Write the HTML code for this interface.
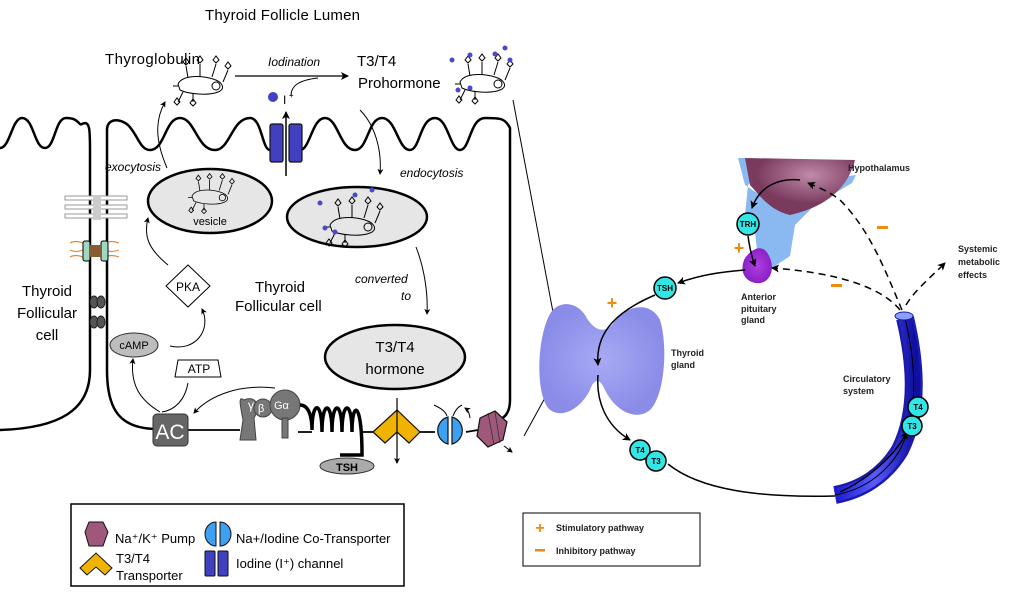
<!DOCTYPE html>
<html><head><meta charset="utf-8"><style>
html,body{margin:0;padding:0;background:#fff}
svg{display:block}
text{font-family:"Liberation Sans",sans-serif}
</style></head><body>
<svg width="1016" height="592" viewBox="0 0 1016 592" xmlns="http://www.w3.org/2000/svg">
<defs>
<marker id="ah" markerWidth="8" markerHeight="8" refX="7" refY="4" orient="auto" markerUnits="userSpaceOnUse"><path d="M0,0 L8,4 L0,8 L2,4Z" fill="#000"/></marker>
<marker id="as" markerWidth="6" markerHeight="6" refX="5" refY="3" orient="auto" markerUnits="userSpaceOnUse"><path d="M0,0 L6,3 L0,6 L1.5,3Z" fill="#000"/></marker>
<linearGradient id="tube" x1="0" x2="1"><stop offset="0" stop-color="#1a1ad0"/><stop offset="0.5" stop-color="#5a5aff"/><stop offset="1" stop-color="#1010a0"/></linearGradient>
<radialGradient id="hyp" cx="0.6" cy="0.3"><stop offset="0" stop-color="#c08aa8"/><stop offset="1" stop-color="#7a3a5e"/></radialGradient>
<radialGradient id="pit" cx="0.5" cy="0.5"><stop offset="0" stop-color="#b040e0"/><stop offset="1" stop-color="#8a20c8"/></radialGradient>
<radialGradient id="thy" cx="0.5" cy="0.5"><stop offset="0" stop-color="#a8aaf5"/><stop offset="1" stop-color="#8a8ce8"/></radialGradient>
<g id="mol" fill="none" stroke="#000" stroke-width="1">
<path d="M0,10 C5,0 25,2 35,5 C45,8 48,15 40,18 C30,22 10,20 2,16 Z"/>
<circle cx="38" cy="12" r="4"/><path d="M-5,12 L0,12 M10,4 L8,-8 M22,3 L22,-10 M34,3 L38,-10 M45,8 L50,-4 M5,18 L0,28 M15,20 L15,28"/>
<path d="M5,-12 l3,-4 l3,4 l-3,3z M19,-14 l3,-4 l3,4 l-3,3z M35,-14 l3,-4 l3,4 l-3,3z M47,-8 l3,-4 l3,4 l-3,3z M-4,28 l3,-4 l3,4 l-3,3z M12,29 l3,-4 l3,4 l-3,3z"/>
</g>
</defs>

<text x="205" y="20" font-size="15" textLength="155">Thyroid  Follicle Lumen</text>

<g fill="none" stroke="#000" stroke-width="2.5">
<path d="M0,148 C10,148 12,118 22,118 C34,118 34,148 45,148 C55,148 55,118 66,118 C80,118 78,126 82,124 C90,120 90,130 90,150 L90,370 C90,410 60,428 0,430"/>
<path d="M107,160 L107,130 C107,118 120,118 128,125 C138,135 140,150 150,150 C165,150 165,118 180,118 C195,118 197,150 215,150 C230,150 232,118 250,118 C262,118 262,150 270,150 M300,150 C310,150 312,118 325,118 C338,118 340,150 355,150 C368,150 368,118 382,118 C396,118 398,150 410,150 C420,150 420,118 435,118 C448,118 450,150 460,150 C470,150 470,118 485,118 C500,118 505,118 510,128 L510,400 C510,412 505,418 498,420"/>
<path d="M107,160 L107,370 C107,410 120,428 155,429"/>
</g>
<g fill="none" stroke="#000" stroke-width="1.8">
<path d="M187,430 L240,430 M298,432 L312,432 M362,432 L375,432 M420,432 L435,432 M466,432 L478,430"/>
</g>

<g fill="#fff" stroke="#999" stroke-width="1">
<rect x="65" y="196" width="62" height="4"/><rect x="65" y="205" width="62" height="4"/><rect x="65" y="214" width="62" height="4"/>
</g>
<rect x="93" y="195" width="8" height="25" fill="#ccc"/>
<g stroke="#e08a40" stroke-width="1.2" fill="none">
<path d="M70,243 q5,-3 13,0 M70,250 q6,3 13,0 M70,257 q5,-3 13,0 M105,243 q6,-3 14,0 M105,250 q6,3 14,0 M105,257 q6,-3 14,0"/>
</g>
<rect x="83" y="241" width="7" height="20" rx="2" fill="#9fd8c0" stroke="#000"/>
<rect x="101" y="241" width="7" height="20" rx="2" fill="#9fd8c0" stroke="#000"/>
<rect x="90" y="245" width="11" height="12" fill="#8a5a30"/>
<g fill="#555" stroke="#222"><ellipse cx="94" cy="302" rx="4" ry="6"/><ellipse cx="101" cy="302" rx="4" ry="6"/><ellipse cx="94" cy="322" rx="4" ry="6"/><ellipse cx="101" cy="322" rx="4" ry="6"/></g>
<g font-size="15" text-anchor="middle"><text x="47" y="296">Thyroid</text><text x="47" y="318">Follicular</text><text x="47" y="340">cell</text></g>

<text x="105" y="64" font-size="15" textLength="95">Thyroglobulin</text>
<use href="#mol" x="178" y="74"/>
<text x="268" y="66" font-size="12" font-style="italic">Iodination</text>
<line x1="235" y1="76" x2="348" y2="76" stroke="#000" stroke-width="1.2" marker-end="url(#ah)"/>
<path d="M291,96 C291,85 300,80 318,78" fill="none" stroke="#000" stroke-width="1"/>
<circle cx="273" cy="97" r="5" fill="#4040c8"/>
<text x="283" y="104" font-size="12">I</text><text x="289" y="98" font-size="8">+</text>
<text x="357" y="66" font-size="15">T3/T4</text>
<text x="358" y="88" font-size="15">Prohormone</text>
<use href="#mol" x="460" y="72"/>
<g fill="#4a4ac8"><circle cx="452" cy="60" r="2.5"/><circle cx="458" cy="90" r="2.5"/><circle cx="470" cy="88" r="2.5"/><circle cx="505" cy="48" r="2.5"/><circle cx="495" cy="54" r="2.5"/><circle cx="470" cy="55" r="2.5"/><circle cx="510" cy="60" r="2.5"/></g>

<rect x="270" y="124" width="13" height="38" rx="2" fill="#4040c0" stroke="#111" stroke-width="1.2"/>
<rect x="289" y="124" width="13" height="38" rx="2" fill="#4040c0" stroke="#111" stroke-width="1.2"/>
<line x1="286" y1="176" x2="286" y2="112" stroke="#000" stroke-width="1.5" marker-end="url(#ah)"/>

<path d="M167,168 C155,140 155,120 165,102" fill="none" stroke="#000" stroke-width="1" marker-end="url(#as)"/>
<text x="105" y="171" font-size="12" font-style="italic">exocytosis</text>
<ellipse cx="210" cy="201" rx="62" ry="32" fill="#e6e6e6" stroke="#000" stroke-width="2.5"/>
<use href="#mol" x="0" y="0" transform="translate(192,188) scale(0.8)"/>
<text x="210" y="225" font-size="11" text-anchor="middle">vesicle</text>
<path d="M360,110 C375,125 382,150 380,174" fill="none" stroke="#000" stroke-width="1" marker-end="url(#as)"/>
<text x="400" y="177" font-size="12" font-style="italic">endocytosis</text>
<ellipse cx="357" cy="217" rx="70" ry="30" fill="#e6e6e6" stroke="#000" stroke-width="2.5"/>
<use href="#mol" x="330" y="215"/>
<g fill="#4a4ac8"><circle cx="320" cy="203" r="2.5"/><circle cx="325" cy="228" r="2.5"/><circle cx="335" cy="232" r="2.5"/><circle cx="372" cy="190" r="2.5"/><circle cx="355" cy="195" r="2.5"/></g>
<text x="355" y="283" font-size="12" font-style="italic">converted</text>
<text x="401" y="300" font-size="12" font-style="italic">to</text>
<path d="M416,247 C425,270 428,295 427,314" fill="none" stroke="#000" stroke-width="1" marker-end="url(#as)"/>
<ellipse cx="395" cy="357" rx="70" ry="32" fill="#e6e6e6" stroke="#000" stroke-width="2.5"/>
<text x="395" y="352" font-size="15" text-anchor="middle">T3/T4</text>
<text x="395" y="374" font-size="15" text-anchor="middle">hormone</text>

<text x="255" y="292" font-size="15">Thyroid</text>
<text x="235" y="311" font-size="15">Follicular cell</text>
<path d="M168,265 C150,250 143,238 148,218" fill="none" stroke="#000" stroke-width="1" marker-end="url(#as)"/>
<path d="M188,265 L210,286 L188,307 L166,286Z" fill="#fff" stroke="#000"/>
<text x="188" y="291" font-size="12" text-anchor="middle">PKA</text>
<ellipse cx="134" cy="345" rx="24" ry="12" fill="#bdbdbd" stroke="#333"/>
<text x="134" y="349" font-size="11" text-anchor="middle">cAMP</text>
<path d="M170,346 C195,352 212,330 202,309" fill="none" stroke="#000" stroke-width="1" marker-end="url(#as)"/>
<path d="M178,360 L218,360 L221,377 L175,377Z" fill="#fff" stroke="#000"/>
<text x="199" y="373" font-size="12" text-anchor="middle">ATP</text>
<path d="M160,412 C140,400 130,385 133,359" fill="none" stroke="#000" stroke-width="1" marker-end="url(#as)"/>
<path d="M188,383 C185,400 175,410 162,412" fill="none" stroke="#000" stroke-width="1"/>
<path d="M275,388 C240,384 210,395 194,413" fill="none" stroke="#000" stroke-width="1" marker-end="url(#as)"/>
<rect x="153" y="414" width="35" height="32" rx="4" fill="#666" stroke="#333"/>
<text x="170" y="439" font-size="21" fill="#fff" text-anchor="middle">AC</text>
<g fill="#777" stroke="#444">
<path d="M244,400 C238,395 240,405 243,420 L240,440 L256,440 L254,418 C262,405 255,395 244,400Z"/>
<circle cx="263" cy="408" r="9"/>
<circle cx="285" cy="405" r="15"/><rect x="282" y="418" width="6" height="20"/>
</g>
<text x="248" y="409" font-size="12" fill="#fff">γ</text><text x="258" y="412" font-size="11" fill="#fff">β</text><text x="274" y="409" font-size="11" fill="#fff">Gα</text>
<path d="M300,405 C310,405 312,420 312,430 C312,400 322,400 322,432 C322,400 332,400 332,432 C332,400 342,400 342,432 C342,400 352,400 352,432 C352,400 362,400 362,455 L340,455" fill="none" stroke="#000" stroke-width="3.5"/>
<ellipse cx="347" cy="466" rx="27" ry="8" fill="#aaa" stroke="#333"/>
<text x="347" y="471" font-size="11" font-weight="bold" text-anchor="middle">TSH</text>
<path d="M373,432 L397,410 L420,432 L409,443 L397,432 L385,443Z" fill="#f0b400" stroke="#111" stroke-width="1.2"/>
<line x1="397" y1="398" x2="397" y2="463" stroke="#000" stroke-width="1.2" marker-end="url(#as)"/>
<path d="M448,417 A14,14 0 0 0 448,444Z" fill="#3ea0f0" stroke="#111" stroke-width="1.2"/>
<path d="M452,417 A14,14 0 0 1 452,444Z" fill="#3ea0f0" stroke="#111" stroke-width="1.2"/>
<path d="M447,416 C445,410 438,407 434,405 M453,416 C455,410 458,407 462,405 M470,418 C469,412 468,410 465,408" fill="none" stroke="#000" stroke-width="1" marker-end="url(#as)"/>
<path d="M480,418 L495,411 L507,422 L503,440 L488,447 L477,436Z" fill="#a0587a" stroke="#111" stroke-width="1.2"/>
<path d="M488,413 L494,445 M495,412 L500,443" stroke="#333" stroke-width="0.8"/>
<line x1="504" y1="446" x2="512" y2="452" stroke="#000" marker-end="url(#as)"/>

<rect x="71" y="504" width="333" height="82" fill="#fff" stroke="#000" stroke-width="1.5"/>
<path d="M89,522 L103,522 L108,532 L103,546 L89,546 L85,532Z" fill="#a0587a" stroke="#111"/>
<text x="115" y="543" font-size="13">Na⁺/K⁺ Pump</text>
<path d="M216,522 A11,12 0 0 0 216,546Z M220,522 A11,12 0 0 1 220,546Z" fill="#3ea0f0" stroke="#111"/>
<text x="236" y="543" font-size="13">Na+/Iodine Co-Transporter</text>
<path d="M80,568 L96,553 L112,568 L105,575 L96,567 L87,575Z" fill="#f0b400" stroke="#111"/>
<text x="116" y="563" font-size="13">T3/T4</text><text x="116" y="580" font-size="13">Transporter</text>
<rect x="205" y="551" width="10" height="25" rx="1" fill="#4040c0" stroke="#111"/><rect x="218" y="551" width="10" height="25" rx="1" fill="#4040c0" stroke="#111"/>
<text x="236" y="568" font-size="13">Iodine (I⁺) channel</text>

<polyline points="513,100 563,365 524,436" fill="none" stroke="#000" stroke-width="1"/>

<path d="M548,318 C555,300 575,300 585,315 C592,328 602,335 612,325 C625,305 650,300 660,320 C668,345 665,395 650,410 C635,422 615,410 605,390 C600,378 594,378 590,390 C580,410 560,420 548,408 C535,390 538,340 548,318Z" fill="url(#thy)"/>
<path d="M738,158 L745,158 L755,178 L748,185 L745,215 L755,232 L758,260 L772,268 L790,256 L795,225 L815,205 L852,183 L856,175 L838,178 L800,205 L760,195 L745,185 Z" fill="#8ab8f0"/>
<path d="M745,158 L855,160 C850,180 835,205 790,215 C770,210 762,198 750,185Z" fill="url(#hyp)"/>
<path d="M745,258 C755,245 765,245 770,258 C775,270 770,285 755,283 C742,280 740,268 745,258Z" fill="url(#pit)"/>
<path d="M905,318 C915,360 920,410 900,450 C885,475 862,490 835,495" fill="none" stroke="#1a1ab0" stroke-width="18"/>
<path d="M905,318 C915,360 920,410 900,450 C885,475 862,490 835,495" fill="none" stroke="url(#tube)" stroke-width="13"/>
<path d="M905,318 C915,360 920,410 900,450 C885,475 862,490 835,495" fill="none" stroke="#000" stroke-width="1"/>
<ellipse cx="904" cy="316" rx="9" ry="4" fill="#8aa0ff" stroke="#1a1ab0"/>

<path d="M800,180 C780,178 760,185 752,208" fill="none" stroke="#000" stroke-width="1.5" marker-end="url(#ah)"/>
<path d="M748,236 C750,250 752,258 755,266" fill="none" stroke="#000" stroke-width="1.5" marker-end="url(#ah)"/>
<path d="M745,270 C720,272 700,275 678,283" fill="none" stroke="#000" stroke-width="1.5" marker-end="url(#ah)"/>
<path d="M655,295 C620,310 595,330 598,365" fill="none" stroke="#000" stroke-width="1.5" marker-end="url(#ah)"/>
<path d="M598,375 C596,400 605,425 630,440" fill="none" stroke="#000" stroke-width="1.5" marker-end="url(#ah)"/>
<path d="M668,464 C700,490 760,498 835,496" fill="none" stroke="#000" stroke-width="1.5"/>
<path d="M840,492 C870,478 895,455 907,432" fill="none" stroke="#000" stroke-width="1.5" marker-end="url(#ah)"/>

<g fill="none" stroke="#000" stroke-width="1.5" stroke-dasharray="7,5">
<path d="M902,310 C885,270 870,230 840,200 C830,192 820,188 808,183" marker-end="url(#ah)"/>
<path d="M900,310 C880,285 830,272 772,268" marker-end="url(#ah)"/>
<path d="M906,305 C915,290 930,278 945,263" marker-end="url(#ah)"/>
</g>

<g stroke="#000" stroke-width="1.5" fill="#33e6e6">
<circle cx="748" cy="224" r="11"/><circle cx="665" cy="288" r="11"/>
<circle cx="640" cy="450" r="10"/><circle cx="656" cy="461" r="10"/>
<circle cx="918" cy="407" r="10"/><circle cx="912" cy="426" r="10"/>
</g>
<g font-size="8" font-weight="bold" text-anchor="middle">
<text x="748" y="227">TRH</text><text x="665" y="291">TSH</text>
<text x="640" y="453">T4</text><text x="656" y="464">T3</text>
<text x="918" y="410">T4</text><text x="912" y="429">T3</text>
</g>
<g font-size="9" font-weight="bold" fill="#222">
<text x="848" y="171">Hypothalamus</text>
<text x="741" y="300">Anterior</text><text x="741" y="312">pituitary</text><text x="741" y="323">gland</text>
<text x="671" y="356">Thyroid</text><text x="671" y="368">gland</text>
<text x="843" y="382">Circulatory</text><text x="843" y="394">system</text>
<text x="958" y="252">Systemic</text><text x="958" y="265">metabolic</text><text x="958" y="278">effects</text>
</g>
<g fill="#f08a10" font-weight="bold" font-size="18" text-anchor="middle">
<text x="739" y="254">+</text><text x="612" y="309">+</text>
</g>
<rect x="877" y="226" width="11" height="3" fill="#f08a10"/>
<rect x="831" y="284" width="11" height="3" fill="#f08a10"/>

<rect x="523" y="513" width="177" height="53" fill="#fff" stroke="#000" stroke-width="1"/>
<text x="540" y="533" fill="#f08a10" font-weight="bold" font-size="16" text-anchor="middle">+</text>
<rect x="535" y="549" width="10" height="2.5" fill="#f08a10"/>
<g font-size="9" font-weight="bold" fill="#222"><text x="556" y="531">Stimulatory pathway</text><text x="556" y="554">Inhibitory pathway</text></g>
</svg>
</body></html>
